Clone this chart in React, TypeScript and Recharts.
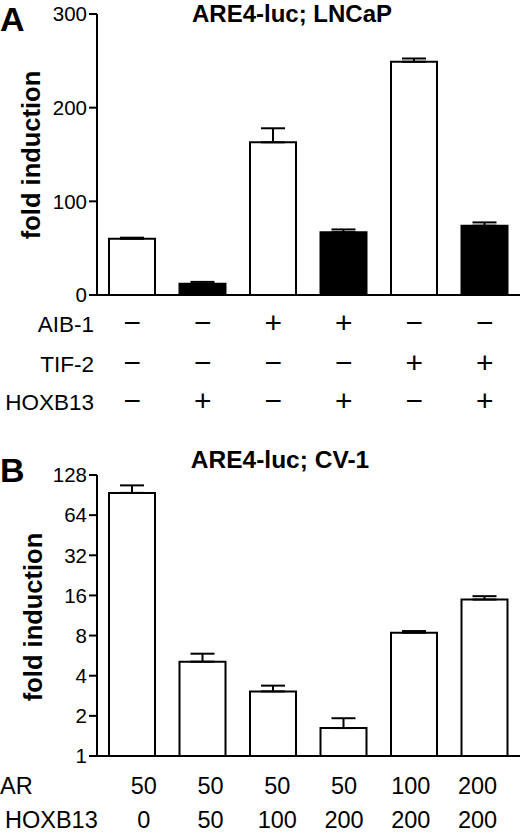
import React from "react";
import { BarChart, Bar, Cell, ErrorBar, XAxis, YAxis } from "recharts";

// panel A: ARE4-luc in LNCaP, co-transfected factors per bar
const aib1 = ["−", "−", "+", "+", "−", "−"];
const tif2 = ["−", "−", "−", "−", "+", "+"];
const hoxb13A = ["−", "+", "−", "+", "−", "+"];
const foldA = [60, 12, 163, 67, 249, 74];
const errA = [1.2, 2, 15, 3, 3.5, 3.5];
const ticksA = [0, 100, 200, 300];
const rowLabelsA = ["AIB-1", "TIF-2", "HOXB13"];

// panel B: ARE4-luc in CV-1, amounts transfected per bar
const arDose = [50, 50, 50, 50, 100, 200];
const hoxb13Dose = [0, 50, 100, 200, 200, 200];
const foldB = [94, 5.1, 3.05, 1.62, 8.4, 14.9];
const errB = [13, 0.75, 0.32, 0.3, 0.25, 0.9];
const ticksB = [1, 2, 4, 8, 16, 32, 64, 128];
const rowLabelsB = ["AR", "HOXB13"];

const dataA = foldA.map((v, i) => ({
  key: String(i),
  value: v,
  err: [0, errA[i]],
  aib1: aib1[i],
  tif2: tif2[i],
  hoxb13: hoxb13A[i],
}));

const dataB = foldB.map((v, i) => ({
  key: String(i),
  value: v,
  err: [0, errB[i]],
  ar: arDose[i],
  hoxb13: hoxb13Dose[i],
}));

const FONT = "'Liberation Sans', Arial, sans-serif";
const Y_W = 97;
const tickStyle = { fill: "#000", fontSize: 20.5, fontFamily: FONT };
const axisStyle = { stroke: "#000", strokeWidth: 2 };

const SignTick = (props: any) => {
  const { x, y, index } = props;
  const d = dataA[index];
  const rows = [d.aib1, d.tif2, d.hoxb13];
  const offs = [37, 77, 115];
  return (
    <g>
      {rows.map((s, r) => (
        <text key={r} x={x} y={y + offs[r] + 1} textAnchor="middle" fontSize={30} fontFamily={FONT} fill="#000">
          {s}
        </text>
      ))}
      {index === 0 &&
        rowLabelsA.map((l, r) => (
          <text key={l} x={Y_W - 3} y={y + offs[r]} textAnchor="end" fontSize={22.5} fontFamily={FONT} fill="#000">
            {l}
          </text>
        ))}
    </g>
  );
};

const DoseTick = (props: any) => {
  const { x, y, index } = props;
  const d = dataB[index];
  // the dose row in the figure is spaced a little tighter than the bars
  const cx = 344 + (x - 343.75) * 0.947;
  return (
    <g>
      <text x={cx} y={y + 38} textAnchor="middle" fontSize={23.5} fontFamily={FONT} fill="#000">
        {d.ar}
      </text>
      <text x={cx} y={y + 72} textAnchor="middle" fontSize={23.5} fontFamily={FONT} fill="#000">
        {d.hoxb13}
      </text>
      {index === 0 && (
        <>
          <text x={0} y={y + 38} fontSize={23.5} fontFamily={FONT} fill="#000">
            {rowLabelsB[0]}
          </text>
          <text x={5} y={y + 72} fontSize={23.5} fontFamily={FONT} fill="#000">
            {rowLabelsB[1]}
          </text>
        </>
      )}
    </g>
  );
};

export default function App() {
  return (
    <div
      style={{
        position: "absolute",
        left: 0,
        top: 0,
        width: 520,
        height: 832,
        background: "#fff",
        overflow: "hidden",
      }}
    >
      <div style={{ position: "absolute", left: 0, top: 0 }}>
        <BarChart width={520} height={420} data={dataA} margin={{ top: 14, right: 0, bottom: 0, left: 0 }}>
          <XAxis
            dataKey="key"
            height={125}
            axisLine={axisStyle}
            tickLine={false}
            tickSize={0}
            tickMargin={0}
            interval={0}
            tick={<SignTick />}
          />
          <YAxis
            width={Y_W}
            domain={[0, 300]}
            ticks={ticksA}
            axisLine={axisStyle}
            tickLine={axisStyle}
            tickSize={8}
            tick={tickStyle}
          />
          <Bar dataKey="value" barSize={46} stroke="#000" strokeWidth={2} isAnimationActive={false}>
            {dataA.map((d, i) => (
              <Cell key={i} fill={d.hoxb13 === "+" ? "#000" : "#fff"} />
            ))}
            <ErrorBar dataKey="err" direction="y" width={12} stroke="#000" strokeWidth={2} isAnimationActive={false} />
          </Bar>
        </BarChart>
      </div>

      <div style={{ position: "absolute", left: 0, top: 432 }}>
        <BarChart width={520} height={400} data={dataB} margin={{ top: 43, right: 0, bottom: 0, left: 0 }}>
          <XAxis
            dataKey="key"
            height={76}
            axisLine={axisStyle}
            tickLine={false}
            tickSize={0}
            tickMargin={0}
            interval={0}
            tick={<DoseTick />}
          />
          <YAxis
            width={Y_W}
            type="number"
            scale="log"
            domain={[1, 128]}
            ticks={ticksB}
            allowDataOverflow
            axisLine={axisStyle}
            tickLine={axisStyle}
            tickSize={8}
            tick={tickStyle}
          />
          <Bar dataKey="value" barSize={46} fill="#fff" stroke="#000" strokeWidth={2} isAnimationActive={false}>
            <ErrorBar dataKey="err" direction="y" width={12} stroke="#000" strokeWidth={2} isAnimationActive={false} />
          </Bar>
        </BarChart>
      </div>

      <svg
        width={520}
        height={832}
        style={{ position: "absolute", left: 0, top: 0, pointerEvents: "none" }}
        fontFamily={FONT}
        fill="#000"
      >
        <text x={0} y={31} fontSize={34} fontWeight="bold">A</text>
        <text x={0} y={482} fontSize={34} fontWeight="bold">B</text>
        <text x={292} y={22} fontSize={24} fontWeight="bold" textAnchor="middle">
          ARE4-luc; LNCaP
        </text>
        <text x={280} y={468} fontSize={24.5} fontWeight="bold" textAnchor="middle">
          ARE4-luc; CV-1
        </text>
        <text x={40} y={155} fontSize={25.5} fontWeight="bold" textAnchor="middle" transform="rotate(-90 40 155)">
          fold induction
        </text>
        <text x={42} y={617} fontSize={25.5} fontWeight="bold" textAnchor="middle" transform="rotate(-90 42 617)">
          fold induction
        </text>
      </svg>
    </div>
  );
}
